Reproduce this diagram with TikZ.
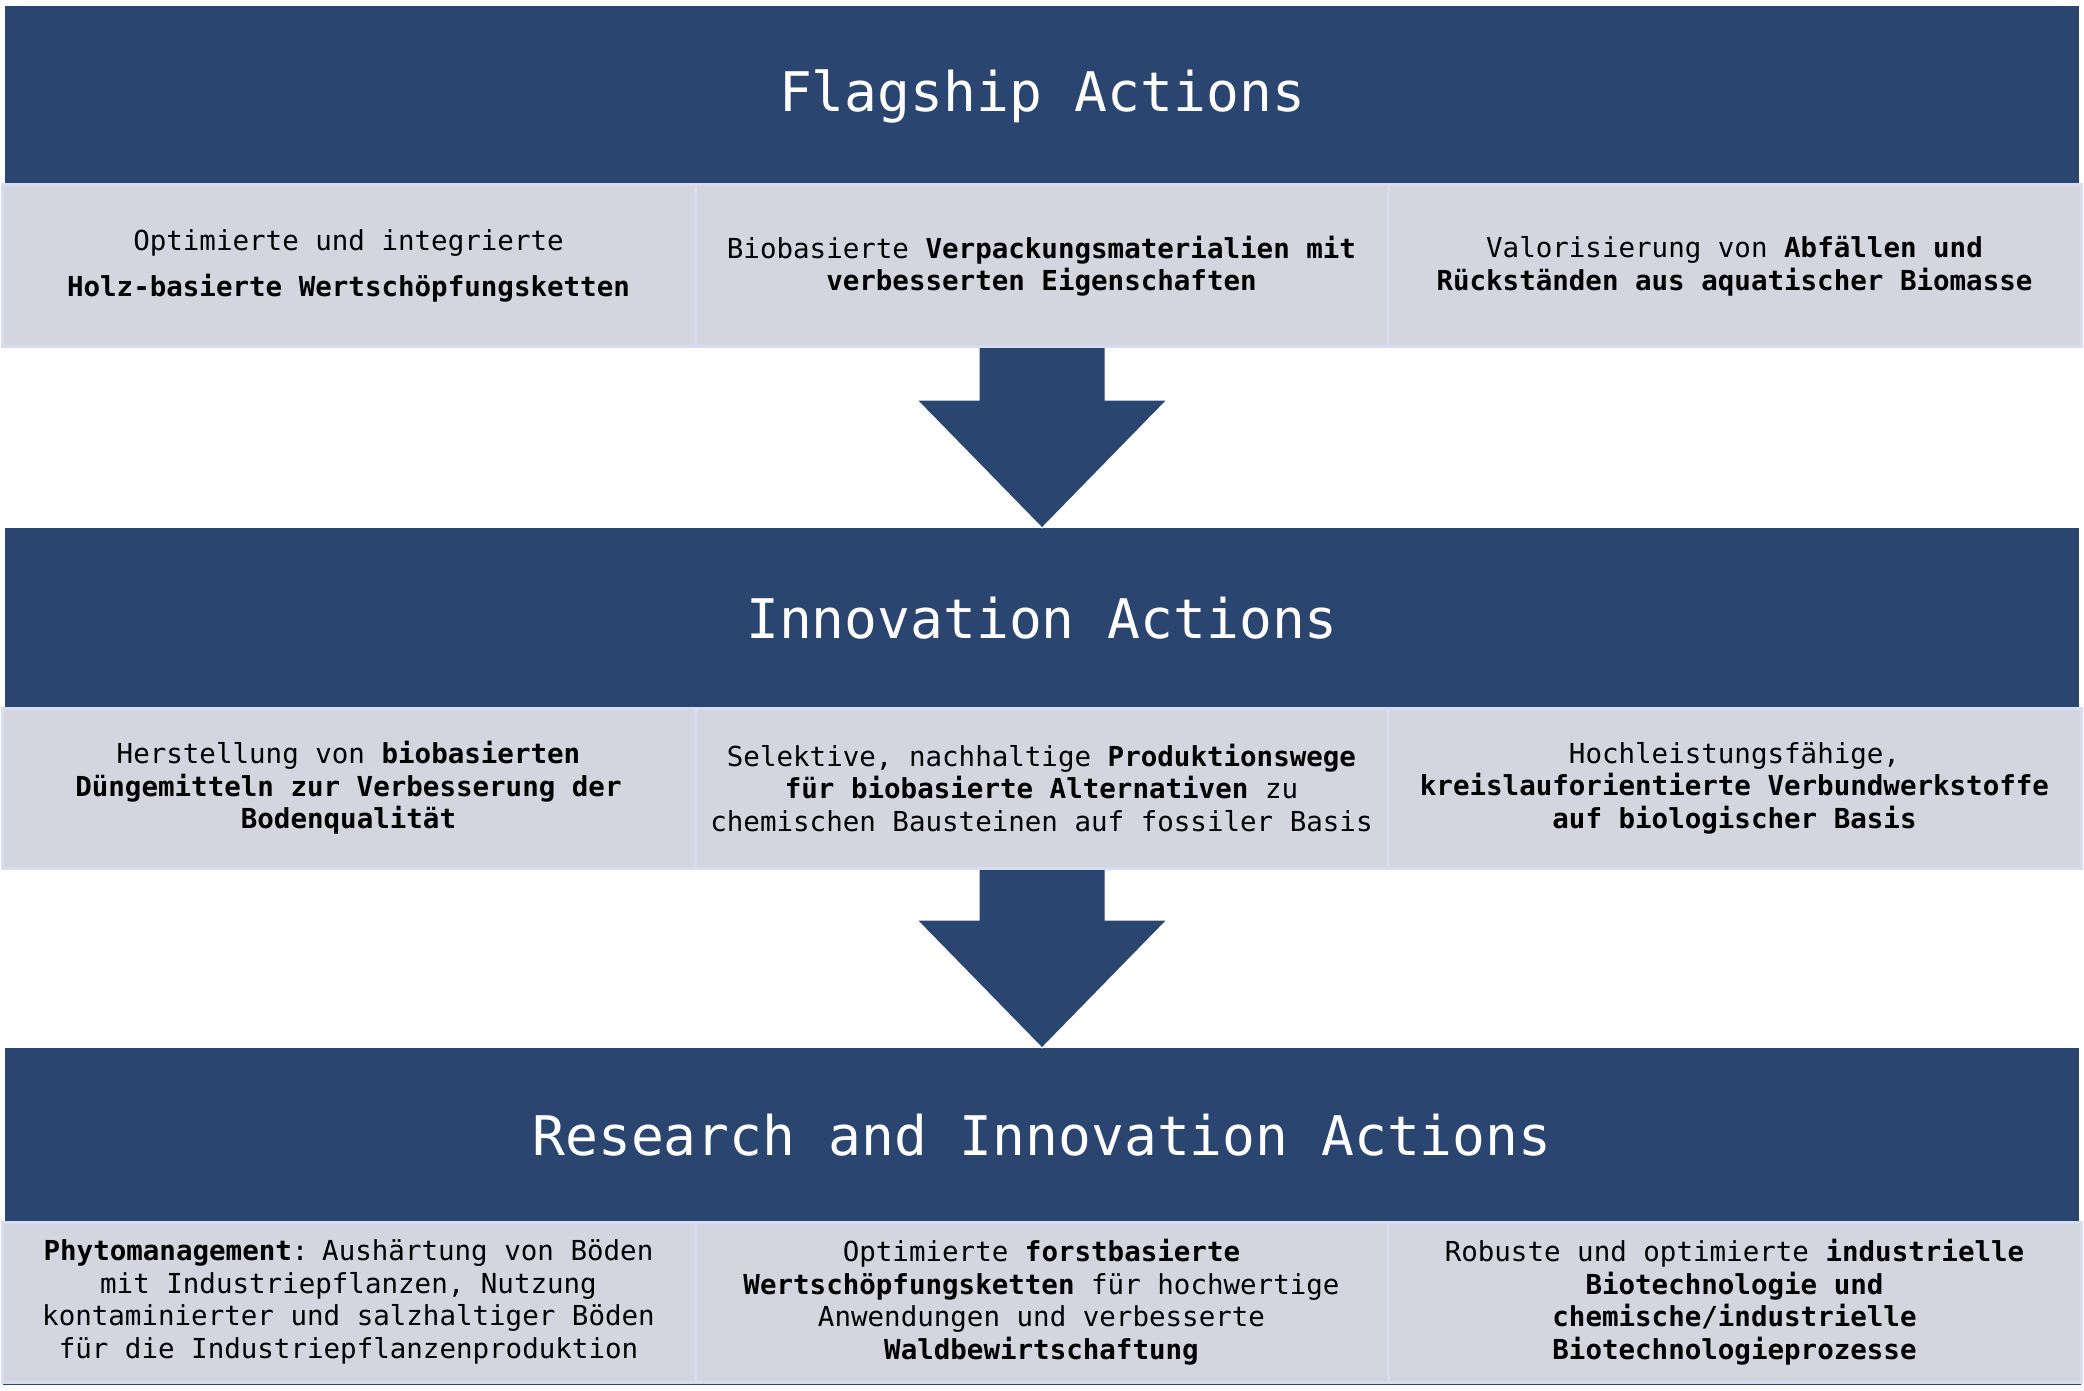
\documentclass[tikz,border=0pt]{standalone}
\usepackage{fontspec}
\setmainfont{DejaVu Sans Mono}
\usetikzlibrary{positioning}

\definecolor{navy}{RGB}{41,69,112}
\definecolor{cellgray}{RGB}{211,214,222}
\definecolor{cellline}{RGB}{216,220,240}
\newcommand\monogap{\spaceskip 0.602em plus 0pt minus 0pt\relax}

\begin{document}
\begin{tikzpicture}[
        x=0.5pt, y=-0.5pt,
    every node/.style={inner sep=0pt, outer sep=0pt},
    head/.style={fill=navy, text=white, minimum width=1037pt,
        font=\fontsize{27.3}{32}\selectfont\monogap},
    cell/.style={fill=cellgray, draw=cellline, line width=1.5pt,
        minimum width=346.5pt, minimum height=80pt, text width=338pt,
        align=center, font=\fontsize{13.75}{16.3}\selectfont,
        execute at begin node=\monogap},
    blockarrow/.style={fill=navy, draw=white, line width=0.5pt}
]
    \useasboundingbox (0,0) rectangle (2084,1391);

    % bands
    \node [head, minimum height=90pt] (fa) at (1042,96) {Flagship Actions};
    \node [head, minimum height=90pt] (ia) at (1042,618) {Innovation Actions};
    \node [head, minimum height=87pt] (ra) at (1042,1135) {Research and Innovation Actions};
    \fill [navy] (3,1380) rectangle (2081,1385);

    % arrows between the bands
    \foreach \t/\b in {347/528, 868/1048} {
        \draw [blockarrow] (979,\t) -- (1105,\t) -- (1105,\b-128) -- (1167,\b-128)
            -- (1042,\b) -- (917,\b-128) -- (979,\b-128) -- cycle;
    }

    % flagship
    \node [cell, minimum height=81pt] (fa1) at (348.5,266) {Optimierte und integrierte\\[7pt]
        {\bfseries Holz-basierte Wertschöpfungsketten}};
    \node [cell, minimum height=81pt] (fa2) at (1041.5,266) {Biobasierte {\bfseries Verpackungsmaterialien mit\\
        verbesserten Eigenschaften}};
    \node [cell, minimum height=81pt] (fa3) at (1734.5,266) {Valorisierung von {\bfseries Abfällen und\\
        Rückständen aus aquatischer Biomasse}};

    % innovation
    \node [cell] (ia1) at (348.5,788) {Herstellung von {\bfseries biobasierten\\
        Düngemitteln zur Verbesserung der\\ Bodenqualität}};
    \node [cell] (ia2) at (1041.5,788) {Selektive, nachhaltige {\bfseries Produktionswege\\
        für biobasierte Alternativen} zu\\ chemischen Bausteinen auf fossiler Basis};
    \node [cell] (ia3) at (1734.5,788) {Hochleistungsfähige,\\
        {\bfseries kreislauforientierte Verbundwerkstoffe\\ auf biologischer Basis}};

    % research and innovation
    \node [cell] (ra1) at (348.5,1302) {{\bfseries Phytomanagement}: Aushärtung von Böden\\
        mit Industriepflanzen, Nutzung\\ kontaminierter und salzhaltiger Böden\\
        für die Industriepflanzenproduktion};
    \node [cell] (ra2) at (1041.5,1302) {Optimierte {\bfseries forstbasierte\\
        Wertschöpfungsketten} für hochwertige\\ Anwendungen und verbesserte\\
        {\bfseries Waldbewirtschaftung}};
    \node [cell] (ra3) at (1734.5,1302) {Robuste und optimierte {\bfseries industrielle\\
        Biotechnologie und\\ chemische/industrielle\\ Biotechnologieprozesse}};
\end{tikzpicture}
\end{document}
